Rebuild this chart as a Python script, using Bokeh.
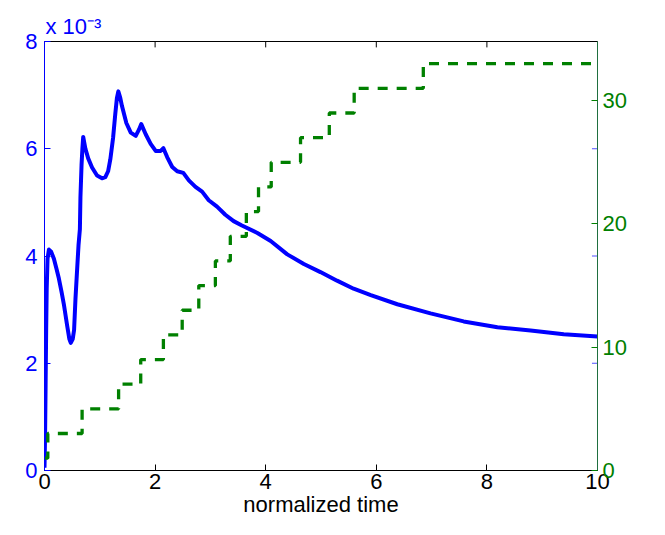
from bokeh.plotting import figure
from bokeh.models import Range1d, LinearAxis, FixedTicker, Title
from bokeh.embed import file_html
from bokeh.resources import INLINE

# ---- data ----
t_blue = [0.000, 0.010, 0.020, 0.030, 0.040, 0.055, 0.080, 0.120, 0.170, 0.220,
          0.260, 0.310, 0.350, 0.410, 0.450, 0.475, 0.510, 0.535, 0.560, 0.590,
          0.615, 0.640, 0.650, 0.670, 0.685, 0.700, 0.740, 0.790, 0.860, 0.950,
          1.040, 1.100, 1.150, 1.190, 1.240, 1.280, 1.310, 1.335, 1.370, 1.400,
          1.480, 1.560, 1.650, 1.710, 1.750, 1.830, 1.920, 2.010, 2.100, 2.150,
          2.220, 2.310, 2.400, 2.510, 2.610, 2.730, 2.850, 2.970, 3.120, 3.270,
          3.420, 3.570, 3.850, 4.090, 4.390, 4.690, 4.990, 5.290, 5.590, 5.900,
          6.380, 6.980, 7.580, 8.190, 8.790, 9.390, 10.000]
v_blue = [0.05, 0.60, 1.60, 2.60, 3.40, 3.95, 4.12, 4.08, 3.95, 3.75,
          3.58, 3.32, 3.10, 2.70, 2.45, 2.38, 2.45, 2.62, 3.20, 3.75,
          4.20, 4.50, 5.10, 5.70, 6.00, 6.22, 6.00, 5.82, 5.65, 5.50,
          5.45, 5.47, 5.58, 5.80, 6.20, 6.65, 6.95, 7.07, 6.95, 6.80,
          6.48, 6.30, 6.24, 6.36, 6.46, 6.27, 6.09, 5.96, 5.96, 6.01,
          5.84, 5.66, 5.58, 5.55, 5.41, 5.29, 5.20, 5.04, 4.92, 4.77,
          4.65, 4.57, 4.43, 4.28, 4.03, 3.85, 3.70, 3.54, 3.39, 3.27,
          3.10, 2.93, 2.78, 2.67, 2.61, 2.54, 2.50]   # units of 1e-3

t_green = [0.00, 0.06, 0.68, 1.34, 1.74, 2.15, 2.49, 2.79, 3.09, 3.36, 3.65,
           3.87, 4.10, 4.63, 5.15, 5.60, 6.85, 10.00]
v_green = [1, 3, 5, 7, 9, 11, 13, 15, 17, 19, 21, 23, 25, 27, 29, 31, 33, 33]

x_ticks = [0, 2, 4, 6, 8, 10]
left_ticks = [0, 2, 4, 6, 8]
right_ticks = [0, 10, 20, 30]
x_max = 10
left_max = 8
right_max = 34.8

FONT = "Liberation Sans"
BLUE = "#0000ff"
GREEN = "#008000"

p = figure(width=649, height=519, output_backend="svg", toolbar_location=None,
           x_range=Range1d(0, x_max), y_range=Range1d(0, left_max),
           min_border_left=44, min_border_right=52, min_border_top=41,
           min_border_bottom=43, x_axis_location=None, y_axis_location=None)
p.extra_y_ranges = {"right": Range1d(0, right_max)}
p.grid.visible = False
p.outline_line_color = "black"
p.outline_line_width = 1
p.background_fill_color = "white"
p.border_fill_color = "white"

def style(ax, color, label_color):
    ax.axis_line_color = color
    ax.major_tick_line_color = color
    ax.major_tick_in = 6
    ax.major_tick_out = 0
    ax.minor_tick_line_color = None
    ax.major_label_text_font = FONT
    ax.major_label_text_font_size = "22px"
    ax.major_label_text_color = label_color
    ax.major_label_standoff = 6

xb = LinearAxis(ticker=FixedTicker(ticks=x_ticks), axis_label="normalized time")
style(xb, "black", "black")
xb.major_label_standoff = 3
xb.major_label_text_line_height = 0.6
xb.axis_label_text_font = FONT
xb.axis_label_text_font_size = "22px"
xb.axis_label_text_font_style = "normal"
xb.axis_label_text_color = "black"
xb.axis_label_text_line_height = 0.6
xb.axis_label_standoff = 0
p.add_layout(xb, "below")

yl = LinearAxis(ticker=FixedTicker(ticks=left_ticks))
style(yl, BLUE, BLUE)
yl.major_label_standoff = 7
p.add_layout(yl, "left")

yr = LinearAxis(ticker=FixedTicker(ticks=right_ticks), y_range_name="right")
style(yr, "#1f6f3f", GREEN)
yr.major_tick_line_color = GREEN
yr.major_label_standoff = 5
p.add_layout(yr, "right")

# box ticks: x ticks on the top edge, left-axis ticks mirrored on the right edge
top = [t for t in x_ticks if 0 < t < x_max]
p.segment(x0=top, x1=top, y0=[left_max - 0.11] * len(top), y1=[left_max] * len(top),
          line_color="black", line_width=1)
mirror = [t for t in left_ticks if 0 < t < left_max]
p.segment(x0=[x_max - 0.1] * len(mirror), x1=[x_max] * len(mirror), y0=mirror, y1=mirror,
          line_color="#5050ff", line_width=1)

p.line(t_blue, v_blue, line_color=BLUE, line_width=4, line_join="round")
p.step(t_green, v_green, mode="after", y_range_name="right",
       line_color=GREEN, line_width=3.3, line_dash="10 9")

p.add_layout(Title(text="x 10\u207b\u00b3", align="left", offset=1, standoff=5,
                   text_font=FONT, text_font_size="22px", text_font_style="normal",
                   text_color=BLUE), "above")

open("out.html", "w").write(file_html(p, INLINE))
